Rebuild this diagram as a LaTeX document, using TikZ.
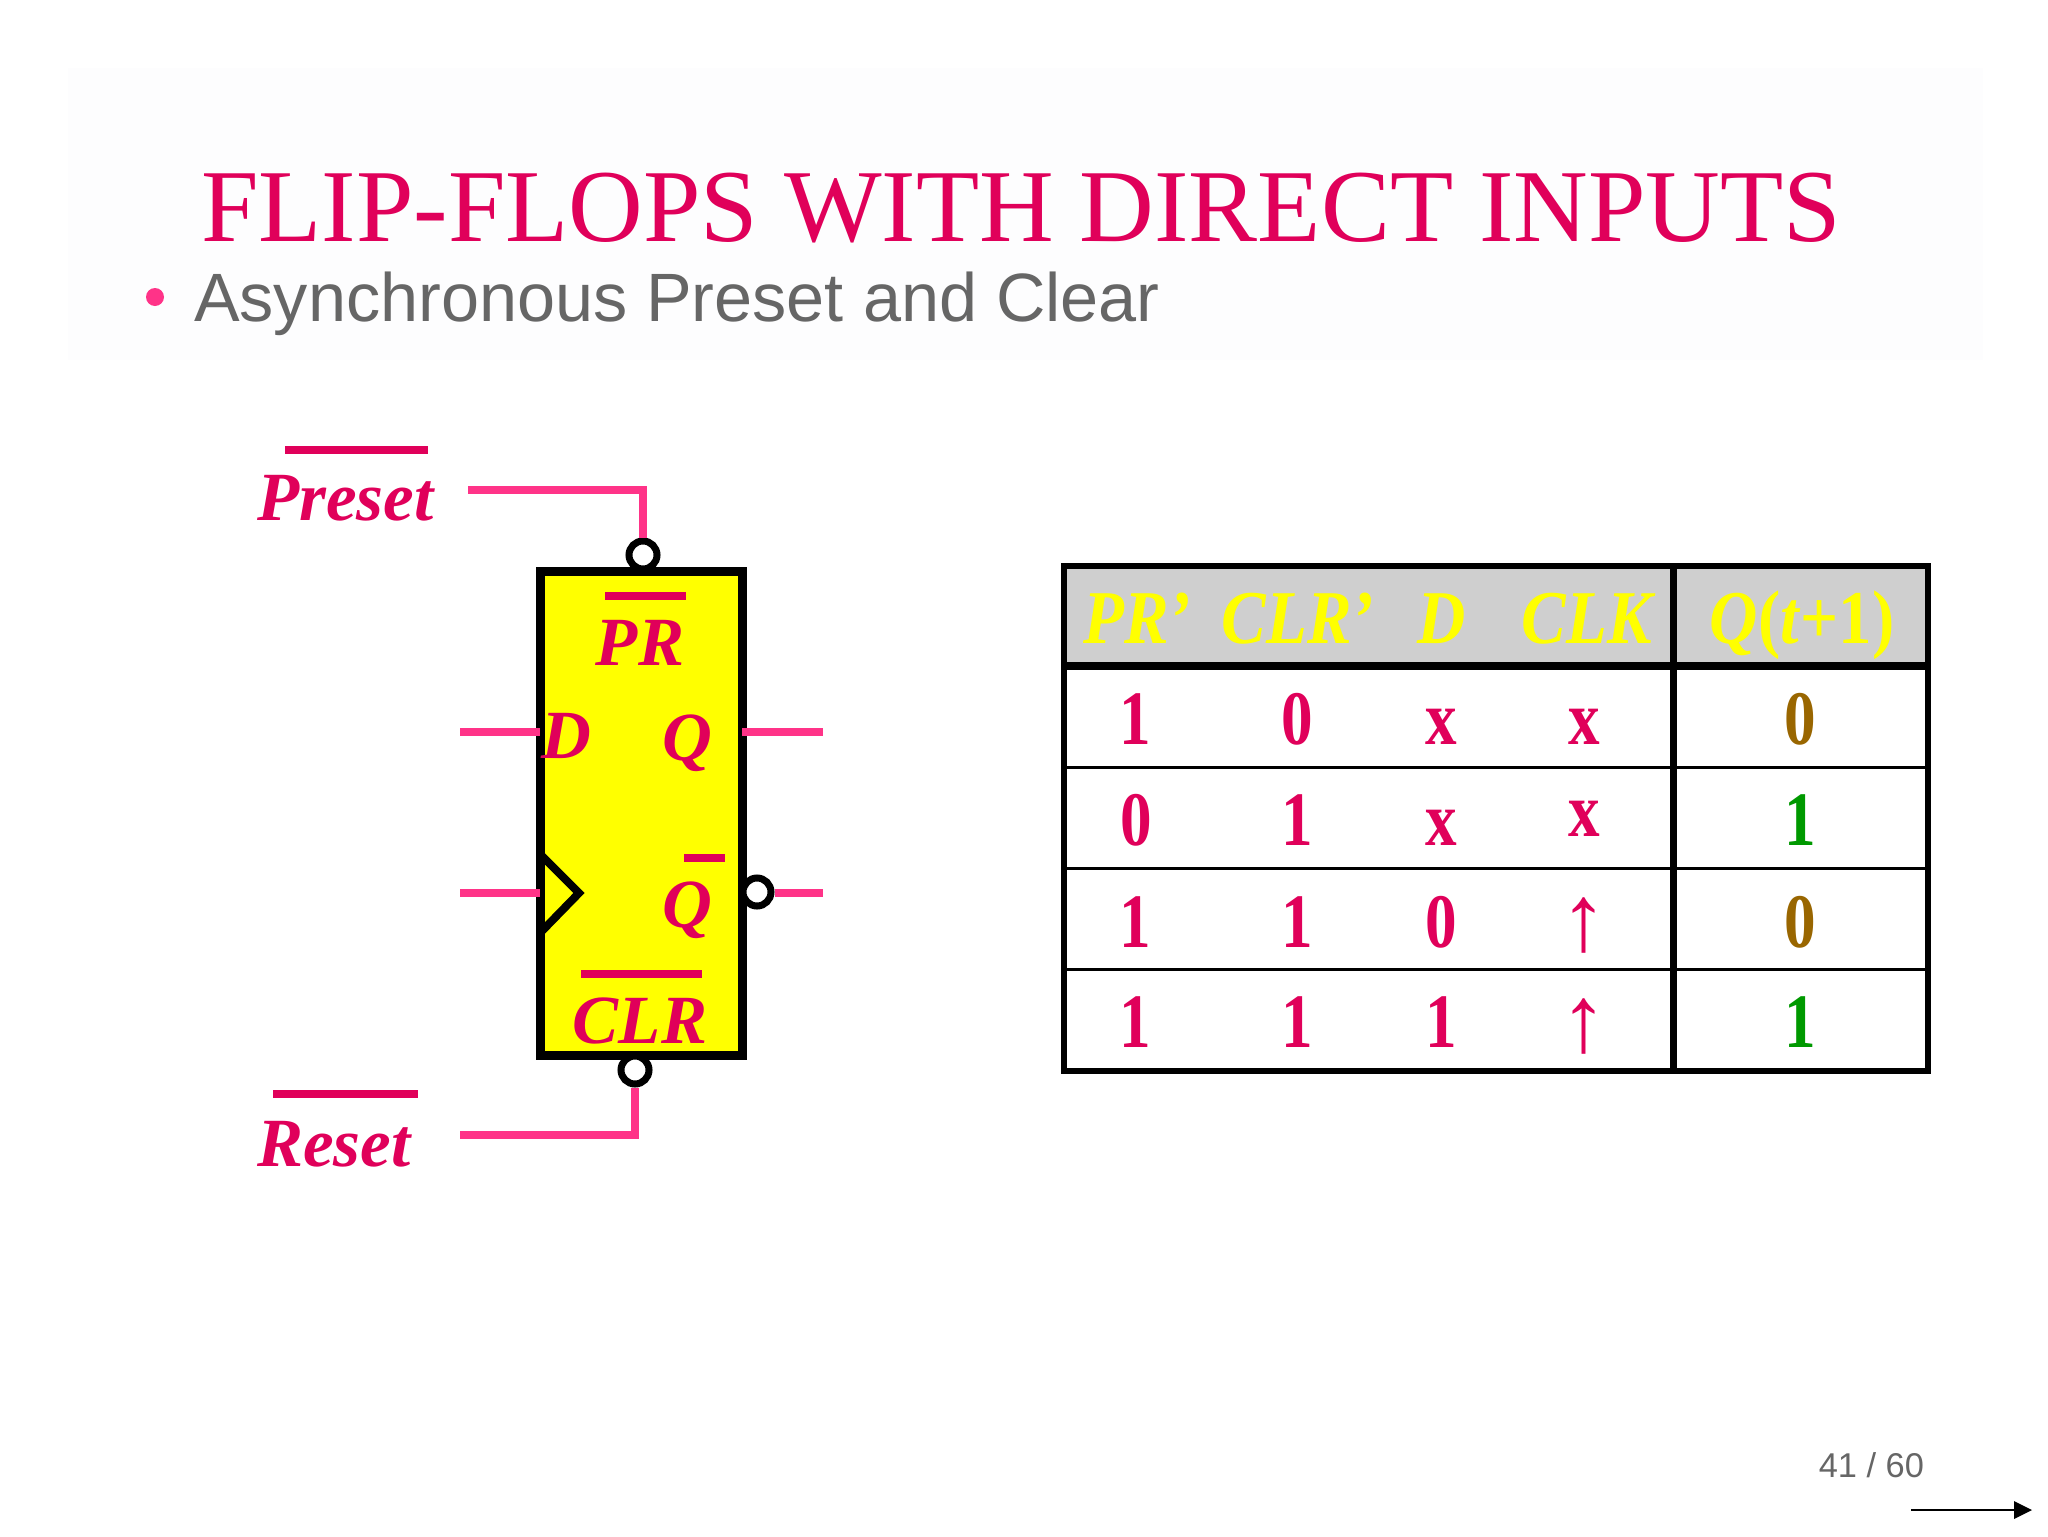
\documentclass[tikz,border=0pt]{standalone}
\usepackage{graphicx}
\usepackage{fontspec}
\setmainfont{Liberation Serif}
\newfontfamily\sansf{Liberation Sans}
\definecolor{crim}{HTML}{E0005A}
\definecolor{wirepink}{HTML}{FF3388}
\definecolor{greyt}{HTML}{666666}
\definecolor{headgrey}{HTML}{CFCFCF}
\definecolor{brownv}{HTML}{996600}
\definecolor{greenv}{HTML}{009900}
\definecolor{panel}{HTML}{FDFDFE}
\definecolor{pureyellow}{HTML}{FFFF00}
\newcommand{\fsz}[1]{\fontsize{#1}{#1}\selectfont}
\newcommand{\cond}[2]{\scalebox{#1}[1]{#2}}
\tikzset{
  txt/.style={inner sep=0pt,outer sep=0pt},
  sig/.style={txt,anchor=base west,text=crim,font=\fsz{34.5}\bfseries\itshape},
  sigc/.style={sig,anchor=base},
  wire/.style={draw=wirepink,line width=4pt},
  bar/.style={draw=crim,line width=4pt},
  bubble/.style={circle,draw=black,fill=white,line width=3.5pt,minimum size=14pt,inner sep=0pt},
  head/.style={txt,anchor=base,text=pureyellow,font=\fsz{38}\bfseries\itshape},
  cell/.style={txt,anchor=base,text=crim,font=\fsz{38.5}\bfseries},
  rule/.style={draw=black,line width=1.5pt},
}
\begin{document}
\begin{tikzpicture}[x=0.5pt,y=-0.5pt]
\useasboundingbox (0,0) rectangle (2048,1536);
\fill[white] (0,0) rectangle (2048,1536);
\fill[panel] (68,68) rectangle (1983,360);

% title and bullet
\node[txt,anchor=base west,text=crim,font=\fsz{51.7}] (title) at (201,241) {FLIP-FLOPS WITH DIRECT INPUTS};
\node[circle,fill=wirepink,minimum size=9pt,inner sep=0pt] (bullet) at (155,297) {};
\node[txt,anchor=base west,text=greyt,font=\sansf\fsz{34.2}] (sub) at (194,321) {Asynchronous Preset and Clear};

% flip-flop box
\draw[black,fill=pureyellow,line width=4.5pt] (540,571) rectangle (742,1055);
\coordinate (clkA) at (541,855);
\coordinate (clkB) at (579,893);
\coordinate (clkC) at (541,932);
\draw[black,line width=4pt] (clkA) -- (clkB) -- (clkC);

% connectors
\node[bubble] (bpr) at (643,555) {};
\node[bubble] (bclr) at (635,1070) {};
\node[bubble] (bqn) at (757,892) {};
\coordinate (preEnd) at (468,490);
\coordinate (preCorner) at (643,490);
\coordinate (rstEnd) at (460,1135);
\coordinate (rstCorner) at (635,1135);
\coordinate (dIn) at (460,732);
\coordinate (dPin) at (540,732);
\coordinate (qPin) at (742,732);
\coordinate (qOut) at (823,732);
\coordinate (cIn) at (460,893);
\coordinate (cPin) at (540,893);
\coordinate (nOut) at (823,893);
\draw[wire] (preEnd) -- (preCorner) -- (bpr.north);
\draw[wire] (rstEnd) -- (rstCorner) -- (bclr.south);
\draw[wire] (dIn) -- (dPin);
\draw[wire] (qPin) -- (qOut);
\draw[wire] (cIn) -- (cPin);
\draw[wire] (bqn.east |- nOut) -- (nOut);

% labels
\coordinate (b1a) at (285,450); \coordinate (b1b) at (428,450);
\coordinate (b2a) at (273,1094); \coordinate (b2b) at (418,1094);
\coordinate (b3a) at (605,596); \coordinate (b3b) at (686,596);
\coordinate (b4a) at (684,858); \coordinate (b4b) at (725,858);
\coordinate (b5a) at (581,974); \coordinate (b5b) at (702,974);
\draw[bar] (b1a) -- (b1b);
\draw[bar] (b2a) -- (b2b);
\draw[bar] (b3a) -- (b3b);
\draw[bar] (b4a) -- (b4b);
\draw[bar] (b5a) -- (b5b);
\node[sig] (lpreset) at (257,520) {Preset};
\node[sig] (lreset) at (257,1166) {Reset};
\node[sigc] (lpr) at (640,665) {PR};
\node[sig] (ld) at (541,758) {D};
\node[sig] (lq) at (662,760) {Q};
\node[sig] (lqn) at (662,927) {Q};
\node[sigc] (lclr) at (640,1043) {CLR};

% table
\fill[headgrey] (1064,566) rectangle (1928,666);
\draw[black,line width=3pt] (1064,566) rectangle (1928,1071);
\coordinate (vt) at (1673,566); \coordinate (vb) at (1673,1071);
\coordinate (hl) at (1064,666); \coordinate (hr) at (1928,666);
\draw[black,line width=3.5pt] (vt) -- (vb);
\draw[black,line width=4pt] (hl) -- (hr);
\draw[rule] (1064,767) -- (1928,767);
\draw[rule] (1064,868) -- (1928,868);
\draw[rule] (1064,969) -- (1928,969);

% header
\node[head] (h1) at (1137,643) {\cond{.88}{PR’}};
\node[head] (h2) at (1298,643) {\cond{.88}{CLR’}};
\node[head] (h3) at (1442,643) {\cond{.88}{D}};
\node[head] (h4) at (1587,643) {\cond{.88}{CLK}};
\node[head] (h5) at (1802,643) {\cond{.88}{Q\textup{(}t\textup{+1)}}};

% rows
\node[cell] (c11) at (1135,744) {\cond{.82}{1}};
\node[cell] (c12) at (1297,744) {\cond{.82}{0}};
\node[cell] (c13) at (1441,744) {\cond{.82}{x}};
\node[cell] (c14) at (1584,744) {\cond{.82}{x}};
\node[cell,text=brownv] (c15) at (1800,744) {\cond{.82}{0}};
\node[cell] (c21) at (1136,845) {\cond{.82}{0}};
\node[cell] (c22) at (1297,845) {\cond{.82}{1}};
\node[cell] (c23) at (1441,845) {\cond{.82}{x}};
\node[cell] (c24) at (1584,836) {\cond{.82}{x}};
\node[cell,text=greenv] (c25) at (1800,845) {\cond{.82}{1}};
\node[cell] (c31) at (1135,947) {\cond{.82}{1}};
\node[cell] (c32) at (1297,947) {\cond{.82}{1}};
\node[cell] (c33) at (1441,947) {\cond{.82}{0}};
\node[cell,font=\fsz{47}] (c34) at (1584,950) {↑};
\node[cell,text=brownv] (c35) at (1800,947) {\cond{.82}{0}};
\node[cell] (c41) at (1135,1047) {\cond{.82}{1}};
\node[cell] (c42) at (1297,1047) {\cond{.82}{1}};
\node[cell] (c43) at (1441,1047) {\cond{.82}{1}};
\node[cell,font=\fsz{47}] (c44) at (1584,1051) {↑};
\node[cell,text=greenv] (c45) at (1800,1047) {\cond{.82}{1}};

% footer
\node[txt,anchor=base east,text=greyt,font=\sansf\fsz{17.2}] (page) at (1924,1477) {41 / 60};
\coordinate (navA) at (1911,1510);
\coordinate (navB) at (2014,1510);
\coordinate (navT) at (2032,1510);
\draw[black,line width=1.3pt] (navA) -- (navB);
\fill[black] (navT) -- (2014,1501) -- (2014,1519) -- cycle;
\end{tikzpicture}
\end{document}
